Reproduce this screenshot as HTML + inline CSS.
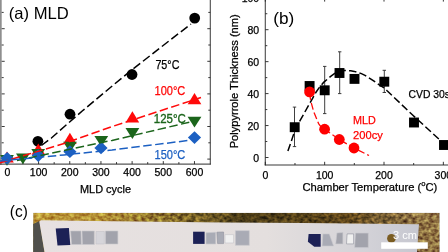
<!DOCTYPE html>
<html><head><meta charset="utf-8"><title>Figure</title>
<style>html,body{margin:0;padding:0;background:#fff;}body{width:448px;height:252px;overflow:hidden;}svg{display:block;}</style>
</head><body>
<svg width="448" height="252" viewBox="0 0 448 252" font-family="Liberation Sans, Arial, sans-serif">
<defs>
<filter id="carpet" x="0" y="0" width="100%" height="100%" color-interpolation-filters="sRGB">
<feTurbulence type="fractalNoise" baseFrequency="0.24 0.3" numOctaves="2" seed="7" result="n"/>
<feColorMatrix in="n" type="matrix" values="0.9 0 0 0 0.02  0.9 0 0 0 0.02  0.9 0 0 0 0.02  0 0 0 0 1" result="g"/>
<feBlend in="g" in2="SourceGraphic" mode="overlay" result="b"/>
<feComposite in="b" in2="SourceGraphic" operator="in"/>
</filter>
<linearGradient id="cg" x1="0" x2="1" y1="0" y2="0">
<stop offset="0" stop-color="#c2a03c"/>
<stop offset="0.16" stop-color="#b8963a"/>
<stop offset="0.28" stop-color="#9a7e30"/>
<stop offset="0.41" stop-color="#80692a"/>
<stop offset="0.52" stop-color="#4e3e18"/>
<stop offset="0.66" stop-color="#58441a"/>
<stop offset="0.78" stop-color="#6a4e1e"/>
<stop offset="0.85" stop-color="#7c6234"/>
<stop offset="0.93" stop-color="#907444"/><stop offset="1" stop-color="#987c48"/>
</linearGradient>
<linearGradient id="pg" x1="0" x2="1" y1="0" y2="0">
<stop offset="0" stop-color="#e7e1e1"/>
<stop offset="0.6" stop-color="#e4dfde"/>
<stop offset="0.85" stop-color="#d4d3d8"/>
<stop offset="1" stop-color="#c6c7d0"/>
</linearGradient>
<clipPath id="clipall"><rect x="0" y="0" width="448" height="252"/></clipPath>
</defs>
<rect width="448" height="252" fill="#fff"/>
<rect x="0" y="0" width="1.7" height="164.6" fill="#8f8f8f"/>
<line x1="210.3" y1="0" x2="210.3" y2="164.6" stroke="#4a4a4a" stroke-width="1.1"/>
<line x1="0" y1="164.1" x2="210.8" y2="164.1" stroke="#2a2a2a" stroke-width="1"/>
<line x1="1.7" y1="12.4" x2="3.7" y2="12.4" stroke="#222" stroke-width="0.9"/>
<line x1="208.3" y1="12.4" x2="210.3" y2="12.4" stroke="#222" stroke-width="0.9"/>
<line x1="1.7" y1="28.700000000000003" x2="4.7" y2="28.700000000000003" stroke="#222" stroke-width="0.9"/>
<line x1="207.3" y1="28.700000000000003" x2="210.3" y2="28.700000000000003" stroke="#222" stroke-width="0.9"/>
<line x1="1.7" y1="45.0" x2="3.7" y2="45.0" stroke="#222" stroke-width="0.9"/>
<line x1="208.3" y1="45.0" x2="210.3" y2="45.0" stroke="#222" stroke-width="0.9"/>
<line x1="1.7" y1="61.300000000000004" x2="4.7" y2="61.300000000000004" stroke="#222" stroke-width="0.9"/>
<line x1="207.3" y1="61.300000000000004" x2="210.3" y2="61.300000000000004" stroke="#222" stroke-width="0.9"/>
<line x1="1.7" y1="77.60000000000001" x2="3.7" y2="77.60000000000001" stroke="#222" stroke-width="0.9"/>
<line x1="208.3" y1="77.60000000000001" x2="210.3" y2="77.60000000000001" stroke="#222" stroke-width="0.9"/>
<line x1="1.7" y1="93.9" x2="4.7" y2="93.9" stroke="#222" stroke-width="0.9"/>
<line x1="207.3" y1="93.9" x2="210.3" y2="93.9" stroke="#222" stroke-width="0.9"/>
<line x1="1.7" y1="110.20000000000002" x2="3.7" y2="110.20000000000002" stroke="#222" stroke-width="0.9"/>
<line x1="208.3" y1="110.20000000000002" x2="210.3" y2="110.20000000000002" stroke="#222" stroke-width="0.9"/>
<line x1="1.7" y1="126.50000000000001" x2="4.7" y2="126.50000000000001" stroke="#222" stroke-width="0.9"/>
<line x1="207.3" y1="126.50000000000001" x2="210.3" y2="126.50000000000001" stroke="#222" stroke-width="0.9"/>
<line x1="1.7" y1="142.8" x2="3.7" y2="142.8" stroke="#222" stroke-width="0.9"/>
<line x1="208.3" y1="142.8" x2="210.3" y2="142.8" stroke="#222" stroke-width="0.9"/>
<line x1="1.7" y1="159.10000000000002" x2="4.7" y2="159.10000000000002" stroke="#222" stroke-width="0.9"/>
<line x1="207.3" y1="159.10000000000002" x2="210.3" y2="159.10000000000002" stroke="#222" stroke-width="0.9"/>
<line x1="7.4" y1="161.1" x2="7.4" y2="164.1" stroke="#222" stroke-width="0.9"/>
<text x="7.4" y="176.4" font-size="10.5" fill="#000" text-anchor="middle" stroke="#000" stroke-width="0.25">0</text>
<line x1="22.990000000000002" y1="162.1" x2="22.990000000000002" y2="164.1" stroke="#222" stroke-width="0.9"/>
<line x1="38.580000000000005" y1="161.1" x2="38.580000000000005" y2="164.1" stroke="#222" stroke-width="0.9"/>
<text x="38.580000000000005" y="176.4" font-size="10.5" fill="#000" text-anchor="middle" stroke="#000" stroke-width="0.25">100</text>
<line x1="54.17" y1="162.1" x2="54.17" y2="164.1" stroke="#222" stroke-width="0.9"/>
<line x1="69.76" y1="161.1" x2="69.76" y2="164.1" stroke="#222" stroke-width="0.9"/>
<text x="69.76" y="176.4" font-size="10.5" fill="#000" text-anchor="middle" stroke="#000" stroke-width="0.25">200</text>
<line x1="85.35000000000001" y1="162.1" x2="85.35000000000001" y2="164.1" stroke="#222" stroke-width="0.9"/>
<line x1="100.94000000000001" y1="161.1" x2="100.94000000000001" y2="164.1" stroke="#222" stroke-width="0.9"/>
<text x="100.94000000000001" y="176.4" font-size="10.5" fill="#000" text-anchor="middle" stroke="#000" stroke-width="0.25">300</text>
<line x1="116.53000000000002" y1="162.1" x2="116.53000000000002" y2="164.1" stroke="#222" stroke-width="0.9"/>
<line x1="132.12" y1="161.1" x2="132.12" y2="164.1" stroke="#222" stroke-width="0.9"/>
<text x="132.12" y="176.4" font-size="10.5" fill="#000" text-anchor="middle" stroke="#000" stroke-width="0.25">400</text>
<line x1="147.71" y1="162.1" x2="147.71" y2="164.1" stroke="#222" stroke-width="0.9"/>
<line x1="163.3" y1="161.1" x2="163.3" y2="164.1" stroke="#222" stroke-width="0.9"/>
<text x="163.3" y="176.4" font-size="10.5" fill="#000" text-anchor="middle" stroke="#000" stroke-width="0.25">500</text>
<line x1="178.89000000000001" y1="162.1" x2="178.89000000000001" y2="164.1" stroke="#222" stroke-width="0.9"/>
<line x1="194.48000000000002" y1="161.1" x2="194.48000000000002" y2="164.1" stroke="#222" stroke-width="0.9"/>
<text x="194.48000000000002" y="176.4" font-size="10.5" fill="#000" text-anchor="middle" stroke="#000" stroke-width="0.25">600</text>
<text x="80" y="192.6" font-size="11" fill="#000" text-anchor="start" textLength="51" lengthAdjust="spacingAndGlyphs" stroke="#000" stroke-width="0.25">MLD cycle</text>
<circle cx="37.9" cy="141.3" r="5.4" fill="#000"/>
<circle cx="70" cy="114.2" r="5.4" fill="#000"/>
<circle cx="132" cy="74.5" r="5.4" fill="#000"/>
<circle cx="194.7" cy="18.1" r="5.4" fill="#000"/>
<polygon points="0.20000000000000018,162.6 13.8,162.6 7,151.4" fill="#ff0a0a"/>
<polygon points="31.499999999999996,154.79999999999998 45.099999999999994,154.79999999999998 38.3,143.6" fill="#ff0a0a"/>
<polygon points="63.10000000000001,143.9 76.7,143.9 69.9,132.70000000000002" fill="#ff0a0a"/>
<polygon points="125.60000000000001,122.39999999999999 139.20000000000002,122.39999999999999 132.4,111.2" fill="#ff0a0a"/>
<polygon points="187.7,104.19999999999999 201.3,104.19999999999999 194.5,93.0" fill="#ff0a0a"/>
<polygon points="0.09999999999999964,154.9 13.9,154.9 7,165.70000000000002" fill="#1b651b"/>
<polygon points="15.999999999999998,153.5 29.799999999999997,153.5 22.9,164.3" fill="#1b651b"/>
<polygon points="31.300000000000004,148.9 45.1,148.9 38.2,159.70000000000002" fill="#1b651b"/>
<polygon points="63.1,141.79999999999998 76.9,141.79999999999998 70,152.6" fill="#1b651b"/>
<polygon points="94.39999999999999,136.0 108.2,136.0 101.3,146.8" fill="#1b651b"/>
<polygon points="125.5,128.1 139.3,128.1 132.4,138.9" fill="#1b651b"/>
<polygon points="187.6,116.69999999999999 201.4,116.69999999999999 194.5,127.5" fill="#1b651b"/>
<polygon points="0.6000000000000005,158.3 7.2,151.9 13.8,158.3 7.2,164.70000000000002" fill="#1c60c2"/>
<polygon points="31.699999999999996,155.6 38.3,149.2 44.9,155.6 38.3,162.0" fill="#1c60c2"/>
<polygon points="63.300000000000004,151.7 69.9,145.29999999999998 76.5,151.7 69.9,158.1" fill="#1c60c2"/>
<polygon points="94.4,147.9 101,141.5 107.6,147.9 101,154.3" fill="#1c60c2"/>
<polygon points="187.9,137.6 194.5,131.2 201.1,137.6 194.5,144.0" fill="#1c60c2"/>
<path d="M41.4,145.5 L51.4,138 L65,126 L82.5,110.8 L114.6,84 L132,69.8 L172,38.6 L191,24" fill="none" stroke="#000" stroke-width="1.5" stroke-dasharray="8.5 3.5"/>
<path d="M0,162.7 L64,143.5 L112,126.6 L201,97.5" fill="none" stroke="#ff0a0a" stroke-width="1.5" stroke-dasharray="8.5 3.5"/>
<path d="M17,160.5 L64,150.5 L112,140.4 L190,122" fill="none" stroke="#1b651b" stroke-width="1.5" stroke-dasharray="8.5 3.5"/>
<path d="M0,161 L64,154.9 L112,150 L189,140.4" fill="none" stroke="#1c60c2" stroke-width="1.5" stroke-dasharray="8.5 3.5"/>
<text x="8.8" y="18.8" font-size="16.5" fill="#000" text-anchor="start" textLength="60" lengthAdjust="spacingAndGlyphs" >(a) MLD</text>
<text x="155.4" y="69.4" font-size="12.3" fill="#000" text-anchor="start" textLength="24" lengthAdjust="spacingAndGlyphs" stroke="#000" stroke-width="0.25">75°C</text>
<text x="154.5" y="95.4" font-size="12.3" fill="#ff0a0a" text-anchor="start" textLength="30.8" lengthAdjust="spacingAndGlyphs" stroke="#ff0000" stroke-width="0.25">100°C</text>
<text x="153.8" y="122.6" font-size="12.3" fill="#1b651b" text-anchor="start" textLength="32" lengthAdjust="spacingAndGlyphs" stroke="#1b651b" stroke-width="0.35">125°C</text>
<text x="154.5" y="158.7" font-size="12.3" fill="#1c60c2" text-anchor="start" textLength="30.8" lengthAdjust="spacingAndGlyphs" stroke="#1c60c2" stroke-width="0.25">150°C</text>
<line x1="265.3" y1="0" x2="265.3" y2="165.5" stroke="#4a4a4a" stroke-width="1.1"/>
<line x1="264.8" y1="165" x2="448" y2="165" stroke="#3a3a3a" stroke-width="1.1"/>
<line x1="265.3" y1="157.5" x2="268.5" y2="157.5" stroke="#222" stroke-width="0.9"/>
<text x="259.2" y="161.7" font-size="10.5" fill="#000" text-anchor="end" stroke="#000" stroke-width="0.25">0</text>
<line x1="265.3" y1="141.525" x2="267.3" y2="141.525" stroke="#222" stroke-width="0.9"/>
<line x1="265.3" y1="125.55" x2="268.5" y2="125.55" stroke="#222" stroke-width="0.9"/>
<text x="259.2" y="129.75" font-size="10.5" fill="#000" text-anchor="end" stroke="#000" stroke-width="0.25">20</text>
<line x1="265.3" y1="109.575" x2="267.3" y2="109.575" stroke="#222" stroke-width="0.9"/>
<line x1="265.3" y1="93.6" x2="268.5" y2="93.6" stroke="#222" stroke-width="0.9"/>
<text x="259.2" y="97.8" font-size="10.5" fill="#000" text-anchor="end" stroke="#000" stroke-width="0.25">40</text>
<line x1="265.3" y1="77.625" x2="267.3" y2="77.625" stroke="#222" stroke-width="0.9"/>
<line x1="265.3" y1="61.650000000000006" x2="268.5" y2="61.650000000000006" stroke="#222" stroke-width="0.9"/>
<text x="259.2" y="65.85000000000001" font-size="10.5" fill="#000" text-anchor="end" stroke="#000" stroke-width="0.25">60</text>
<line x1="265.3" y1="45.67500000000001" x2="267.3" y2="45.67500000000001" stroke="#222" stroke-width="0.9"/>
<line x1="265.3" y1="29.700000000000003" x2="268.5" y2="29.700000000000003" stroke="#222" stroke-width="0.9"/>
<text x="259.2" y="33.900000000000006" font-size="10.5" fill="#000" text-anchor="end" stroke="#000" stroke-width="0.25">80</text>
<line x1="265.3" y1="13.724999999999994" x2="267.3" y2="13.724999999999994" stroke="#222" stroke-width="0.9"/>
<text x="259.2" y="1.9500000000000002" font-size="10.5" fill="#000" text-anchor="end" stroke="#000" stroke-width="0.25">100</text>
<line x1="265.3" y1="161.8" x2="265.3" y2="165" stroke="#222" stroke-width="0.9"/>
<line x1="265.3" y1="0" x2="265.3" y2="1.6" stroke="#222" stroke-width="0.9"/>
<text x="265.3" y="178.7" font-size="10.5" fill="#000" text-anchor="middle" stroke="#000" stroke-width="0.25">0</text>
<line x1="294.975" y1="163" x2="294.975" y2="165" stroke="#222" stroke-width="0.9"/>
<line x1="294.975" y1="0" x2="294.975" y2="0" stroke="#222" stroke-width="0.9"/>
<line x1="324.65000000000003" y1="161.8" x2="324.65000000000003" y2="165" stroke="#222" stroke-width="0.9"/>
<line x1="324.65000000000003" y1="0" x2="324.65000000000003" y2="1.6" stroke="#222" stroke-width="0.9"/>
<text x="324.65000000000003" y="178.7" font-size="10.5" fill="#000" text-anchor="middle" stroke="#000" stroke-width="0.25">100</text>
<line x1="354.32500000000005" y1="163" x2="354.32500000000005" y2="165" stroke="#222" stroke-width="0.9"/>
<line x1="354.32500000000005" y1="0" x2="354.32500000000005" y2="0" stroke="#222" stroke-width="0.9"/>
<line x1="384.0" y1="161.8" x2="384.0" y2="165" stroke="#222" stroke-width="0.9"/>
<line x1="384.0" y1="0" x2="384.0" y2="1.6" stroke="#222" stroke-width="0.9"/>
<text x="384.0" y="178.7" font-size="10.5" fill="#000" text-anchor="middle" stroke="#000" stroke-width="0.25">200</text>
<line x1="413.675" y1="163" x2="413.675" y2="165" stroke="#222" stroke-width="0.9"/>
<line x1="413.675" y1="0" x2="413.675" y2="0" stroke="#222" stroke-width="0.9"/>
<line x1="443.35" y1="161.8" x2="443.35" y2="165" stroke="#222" stroke-width="0.9"/>
<line x1="443.35" y1="0" x2="443.35" y2="1.6" stroke="#222" stroke-width="0.9"/>
<text x="443.35" y="178.7" font-size="10.5" fill="#000" text-anchor="middle" stroke="#000" stroke-width="0.25">300</text>
<text x="302.5" y="191.2" font-size="11" fill="#000" textLength="134.8" lengthAdjust="spacingAndGlyphs" stroke="#000" stroke-width="0.25">Chamber Temperature (<tspan font-size="7.5" dy="-5.2">o</tspan><tspan dy="5.2">C)</tspan></text>
<text transform="translate(237.6,148.3) rotate(-90)" font-size="11" fill="#000" textLength="134" lengthAdjust="spacingAndGlyphs" stroke="#000" stroke-width="0.25">Polypyrrole Thickness (nm)</text>
<line x1="294.5" y1="107.1" x2="294.5" y2="146.6" stroke="#2a2a2a" stroke-width="0.9"/>
<line x1="292.8" y1="107.1" x2="296.2" y2="107.1" stroke="#2a2a2a" stroke-width="0.9"/>
<line x1="292.8" y1="146.6" x2="296.2" y2="146.6" stroke="#2a2a2a" stroke-width="0.9"/>
<line x1="324.7" y1="66.4" x2="324.7" y2="113.6" stroke="#2a2a2a" stroke-width="0.9"/>
<line x1="323.0" y1="66.4" x2="326.4" y2="66.4" stroke="#2a2a2a" stroke-width="0.9"/>
<line x1="323.0" y1="113.6" x2="326.4" y2="113.6" stroke="#2a2a2a" stroke-width="0.9"/>
<line x1="339.7" y1="51.8" x2="339.7" y2="93.6" stroke="#2a2a2a" stroke-width="0.9"/>
<line x1="338.0" y1="51.8" x2="341.4" y2="51.8" stroke="#2a2a2a" stroke-width="0.9"/>
<line x1="338.0" y1="93.6" x2="341.4" y2="93.6" stroke="#2a2a2a" stroke-width="0.9"/>
<line x1="384.3" y1="70.3" x2="384.3" y2="92.5" stroke="#2a2a2a" stroke-width="0.9"/>
<line x1="382.6" y1="70.3" x2="386.0" y2="70.3" stroke="#2a2a2a" stroke-width="0.9"/>
<line x1="382.6" y1="92.5" x2="386.0" y2="92.5" stroke="#2a2a2a" stroke-width="0.9"/>
<path d="M287.9,151.1 L291.4,141 L295,130 L300,120.7 L310,102.9 L312.3,98.8 L316,92.2 L319.2,87.6 L323.6,82.4 L330.7,76.4 L334.7,73.5 L339,71.6 L344.3,70.6 L350.7,70.7 L354.3,71.4 L361.4,73.6 L365,75.3 L372.1,79.8 L379.3,84.8 L384.5,88.2 L387.1,90.8 L412.6,115 L441,141 L448,147" fill="none" stroke="#000" stroke-width="1.5" stroke-dasharray="7.5 3.2"/>
<path d="M309.6,93 L310.7,100.7 L313.6,111.4 L318.6,123.6 Q321,127.5 324.6,129.3 L339.3,139.5 L354,148 L369,155.5" fill="none" stroke="#ff0a0a" stroke-width="1.3" stroke-dasharray="7 3"/>
<rect x="289.75" y="122.25" width="9.9" height="9.9" fill="#000"/>
<rect x="304.65000000000003" y="81.05" width="9.9" height="9.9" fill="#000"/>
<rect x="319.75" y="85.35" width="9.9" height="9.9" fill="#000"/>
<rect x="334.55" y="68.05" width="9.9" height="9.9" fill="#000"/>
<rect x="349.55" y="73.95" width="9.9" height="9.9" fill="#000"/>
<rect x="379.35" y="76.75" width="9.9" height="9.9" fill="#000"/>
<rect x="409.05" y="117.55" width="9.9" height="9.9" fill="#000"/>
<rect x="439.05" y="140.05" width="9.9" height="9.9" fill="#000"/>
<circle cx="309.6" cy="91.9" r="5.4" fill="#ff0000"/>
<circle cx="324.6" cy="129.2" r="5.4" fill="#ff0000"/>
<circle cx="339.3" cy="139.5" r="5.4" fill="#ff0000"/>
<circle cx="354" cy="148" r="5.4" fill="#ff0000"/>
<text x="273.3" y="23.8" font-size="17" fill="#000" text-anchor="start" textLength="21" lengthAdjust="spacingAndGlyphs" >(b)</text>
<text x="408.5" y="98" font-size="11.5" fill="#000" text-anchor="start" textLength="41.5" lengthAdjust="spacingAndGlyphs" stroke="#000" stroke-width="0.25">CVD 30s</text>
<text x="353.1" y="124.1" font-size="11.6" fill="#ff0000" text-anchor="start" textLength="22.8" lengthAdjust="spacingAndGlyphs" stroke="#ff0000" stroke-width="0.25">MLD</text>
<text x="353.1" y="139.4" font-size="11.8" fill="#ff0000" text-anchor="start" textLength="29.8" lengthAdjust="spacingAndGlyphs" stroke="#ff0000" stroke-width="0.25">200cy</text>
<text x="9.8" y="216.6" font-size="16.8" fill="#000" text-anchor="start" textLength="18" lengthAdjust="spacingAndGlyphs" >(c)</text>
<g clip-path="url(#clipall)">
<rect x="33.2" y="212.9" width="406.4" height="40" fill="url(#cg)" filter="url(#carpet)"/>
<polygon points="33.2,224 39.5,221 44.5,252 33.2,252" fill="#50504c"/>
<polygon points="39.3,221.5 41,220.2 112,221.2 224,222.5 304,223.1 419,224.2 417,252 44.5,252" fill="url(#pg)"/>
<circle cx="391.4" cy="238.4" r="4.3" fill="#7a5c22"/>
<polygon points="55.7,228.5 68.9,228 70.3,245 57.5,245.5" fill="#1c2156"/>
<polygon points="70.6,231 81,231 81.4,244.5 71.6,244.5" fill="#a2a3ac" stroke="#c9c9cf" stroke-width="0.6"/>
<polygon points="82,231 94.3,231 94.3,244.5 82.4,244.5" fill="#a2a3ac" stroke="#c9c9cf" stroke-width="0.6"/>
<polygon points="96,231.5 104.3,231.5 104.3,244 96,244" fill="#d6d5da" stroke="#c4c4ca" stroke-width="0.6"/>
<polygon points="105.4,231 117.9,231 117.9,244 105.4,244" fill="#a2a3ac" stroke="#c9c9cf" stroke-width="0.6"/>
<polygon points="193.1,231.7 204.6,231.7 204.6,243.9 193.1,243.9" fill="#1c2156"/>
<polygon points="206,232.8 215.7,232.2 215.7,244 206,244" fill="#a9abb5" stroke="#c9c9cf" stroke-width="0.6"/>
<polygon points="216.9,232.2 223.6,232 223.6,243.6 217.6,243.6" fill="#a9abb5" stroke="#8e919c" stroke-width="0.6"/>
<polygon points="225,234.6 233.6,234.6 233.6,243 225,243" fill="#f0f0f0" stroke="#c4c4ca" stroke-width="0.6"/>
<polygon points="235.4,230.7 249.3,230.7 249.3,245.3 235.4,245.3" fill="#a9abb5" stroke="#c9c9cf" stroke-width="0.6"/>
<polygon points="308.6,233.9 320.7,233.9 320.7,246.7 314.3,246.7 307.9,241.7" fill="#1c2156"/>
<polygon points="322.9,233.9 329.3,233.9 333.6,246 322.1,246" fill="#a9abb5" stroke="#c9c9cf" stroke-width="0.6"/>
<polygon points="336.9,232.9 342.9,232.5 342.9,243.9 335.7,243.9" fill="#a2a3ac" stroke="#c9c9cf" stroke-width="0.6"/>
<polygon points="347.1,233.9 353.6,233.9 353.6,243.9 346.5,243.9" fill="#f0f0f0" stroke="#8e919c" stroke-width="0.6"/>
<polygon points="355.5,233.1 368.3,233.1 368.3,247.6 354.6,247.6" fill="#a2a3ac" stroke="#c9c9cf" stroke-width="0.6"/>
<rect x="381.2" y="242.3" width="46.6" height="6.5" fill="#fff"/>
<text x="393" y="238.8" font-size="11" fill="#fff" text-anchor="start" textLength="24" lengthAdjust="spacingAndGlyphs" >3 cm</text>
</g>
</svg>
</body></html>
